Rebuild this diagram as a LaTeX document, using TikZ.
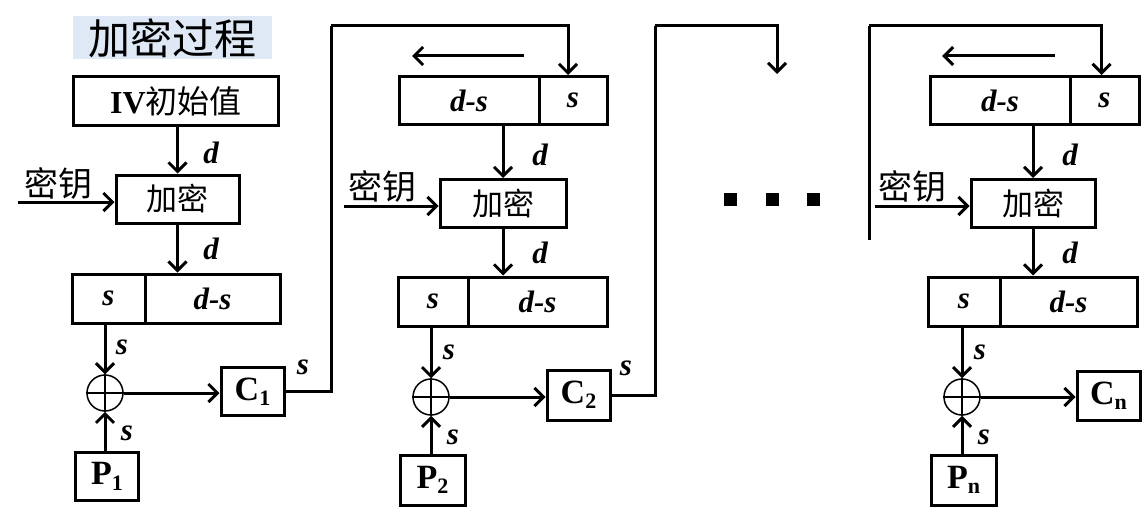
\documentclass[tikz,border=0pt]{standalone}
\usepackage{fontspec}
\setmainfont{Liberation Serif}
\newfontfamily\cjk{Noto Sans CJK SC}
\usetikzlibrary{arrows.meta}
\definecolor{titlebg}{RGB}{222,233,245}
\newcommand{\lab}{\bfseries\itshape\fontsize{31}{31}\selectfont}
\newcommand{\bsub}[2]{\textbf{#1\raisebox{-0.35ex}{\fontsize{22}{22}\selectfont #2}}}
\tikzset{
  x=1pt, y=-1pt,
  cell/.style={draw, line width=3pt, inner sep=0pt, font=\lab},
  encbox/.style={draw, line width=3pt, inner sep=0pt, minimum width=123pt, minimum height=48pt, font=\cjk\fontsize{31}{31}\selectfont},
  pcbox/.style={draw, line width=3pt, inner sep=0pt, minimum width=63pt, minimum height=48pt, font=\fontsize{34}{34}\selectfont},
  xorc/.style={draw, circle, line width=1.5pt, minimum size=36pt, inner sep=0pt},
  arr/.style={line width=3pt, -{Straight Barb[length=9pt,width=18pt]}},
  ln/.style={line width=3pt},
  lbl/.style={font=\lab, inner sep=0pt},
  keylbl/.style={font=\cjk\fontsize{34}{34}\selectfont, inner sep=0pt},
  dot/.style={fill=black, minimum size=13pt, inner sep=0pt}
}
\begin{document}
\begin{tikzpicture}
\path[use as bounding box] (0,0) rectangle (1143,519);

% ---- column 1 ----
\node[fill=titlebg, minimum width=199pt, minimum height=43pt, inner sep=0pt, font=\cjk\fontsize{42}{42}\selectfont] (title) at (172,38) {加密过程};
\node[draw, line width=3pt, inner sep=0pt, minimum width=205pt, minimum height=49pt, font=\fontsize{32}{32}\selectfont] (iv) at (176,101) {\textbf{IV}{\cjk 初始值}};
\node[encbox] (enc1) at (177.5,199) {加密};
\node[keylbl] (key1) at (58,183) {密钥};
\coordinate (kin1) at (18,202);
\node[cell, minimum width=73pt, minimum height=49pt] (c1s) at (108.5,298.5) {s};
\node[cell, minimum width=135pt, minimum height=49pt] (c1ds) at (212.5,298.5) {d-s};
\node[xorc] (x1) at (105,393) {};
\draw[line width=1.5pt] (x1.west) -- (x1.east) (x1.north) -- (x1.south);
\node[pcbox] (p1) at (107,476.5) {\bsub{P}{1}};
\node[pcbox] (cc1) at (252.5,391.5) {\bsub{C}{1}};

\draw[arr] (enc1.north |- iv.south) -- (enc1.north);
\node[lbl] (d1a) at (211,153) {d};
\draw[arr] (kin1) -- (kin1 -| enc1.west);
\draw[arr] (enc1.south) -- (enc1.south |- c1ds.north);
\node[lbl] (d1b) at (211,249) {d};
\draw[arr] (c1s.south -| x1) -- (x1.north);
\node[lbl] (s1a) at (122,347) {s};
\draw[arr] (p1.north -| x1) -- (x1.south);
\node[lbl] (s1b) at (127,433) {s};
\draw[arr] (x1.east) -- (x1.east -| cc1.west);
\node[lbl] (s1c) at (303,367) {s};

% ---- column 2 ----
\node[cell, minimum width=140pt, minimum height=48pt] (b2ds) at (469,100.5) {d-s};
\node[cell, minimum width=68pt, minimum height=48pt] (b2s) at (573,100.5) {s};
\coordinate (la2a) at (524,56);
\coordinate (la2b) at (412,56);
\draw[arr] (la2a) -- (la2b);
\node[encbox, minimum width=126pt] (enc2) at (503,203.5) {加密};
\node[keylbl] (key2) at (382,186) {密钥};
\coordinate (kin2) at (344,206);
\node[cell, minimum width=70pt, minimum height=49pt] (c2s) at (433,301.5) {s};
\node[cell, minimum width=139pt, minimum height=49pt] (c2ds) at (537.5,301.5) {d-s};
\node[xorc] (x2) at (431,397) {};
\draw[line width=1.5pt] (x2.west) -- (x2.east) (x2.north) -- (x2.south);
\node[pcbox, minimum width=65pt, minimum height=50pt] (p2) at (432.5,480) {\bsub{P}{2}};
\node[pcbox, minimum height=50pt] (cc2) at (578.5,395) {\bsub{C}{2}};

\coordinate (t1) at (331,26);
\draw[ln] (cc1.east) -| (t1);
\draw[arr] (t1) -| ([xshift=-5pt]b2s.north);
\draw[arr] (enc2.north |- b2ds.south) -- (enc2.north);
\node[lbl] (d2a) at (540,155) {d};
\draw[arr] (kin2) -- (kin2 -| enc2.west);
\draw[arr] (enc2.south) -- (enc2.south |- c2ds.north);
\node[lbl] (d2b) at (540,253) {d};
\draw[arr] (c2s.south -| x2) -- (x2.north);
\node[lbl] (s2a) at (449,352) {s};
\draw[arr] (p2.north -| x2) -- (x2.south);
\node[lbl] (s2b) at (453,437) {s};
\draw[arr] (x2.east) -- (x2.east -| cc2.west);
\node[lbl] (s2c) at (626,368) {s};

% ---- feedback to dots ----
\coordinate (t2) at (655,26);
\coordinate (e2) at (777,74);
\draw[ln] (cc2.east) -| (t2);
\draw[arr] (t2) -| (e2);
\node[dot] (dt1) at (730,199) {};
\node[dot] (dt2) at (772,199) {};
\node[dot] (dt3) at (813,199) {};

% ---- column n ----
\coordinate (vn0) at (869,240);
\coordinate (vn1) at (869,26);
\node[cell, minimum width=140pt, minimum height=48pt] (bnds) at (1000,100.5) {d-s};
\node[cell, minimum width=69pt, minimum height=48pt] (bns) at (1104.5,100.5) {s};
\draw[ln] (vn0) -- (vn1);
\draw[arr] (vn1) -| ([xshift=-3pt]bns.north);
\coordinate (lana) at (1055,56);
\coordinate (lanb) at (942,56);
\draw[arr] (lana) -- (lanb);
\node[encbox, minimum width=124pt] (encn) at (1033,203.5) {加密};
\node[keylbl] (keyn) at (912,186) {密钥};
\coordinate (kinn) at (875,206);
\node[cell, minimum width=72pt, minimum height=49pt] (cns) at (964,301.5) {s};
\node[cell, minimum width=137pt, minimum height=49pt] (cnds) at (1068.5,301.5) {d-s};
\node[xorc] (xn) at (962,397) {};
\draw[line width=1.5pt] (xn.west) -- (xn.east) (xn.north) -- (xn.south);
\node[pcbox, minimum width=65pt, minimum height=50pt] (pn) at (963.5,480) {\bsub{P}{n}};
\node[pcbox, minimum width=63pt, minimum height=49pt] (ccn) at (1108.5,395.5) {\bsub{C}{n}};

\draw[arr] (encn.north |- bnds.south) -- (encn.north);
\node[lbl] (dna) at (1070,155) {d};
\draw[arr] (kinn) -- (kinn -| encn.west);
\draw[arr] (encn.south) -- (encn.south |- cnds.north);
\node[lbl] (dnb) at (1070,253) {d};
\draw[arr] (cns.south -| xn) -- (xn.north);
\node[lbl] (sna) at (980,352) {s};
\draw[arr] (pn.north -| xn) -- (xn.south);
\node[lbl] (snb) at (984,437) {s};
\draw[arr] (xn.east) -- (xn.east -| ccn.west);
\end{tikzpicture}
\end{document}
